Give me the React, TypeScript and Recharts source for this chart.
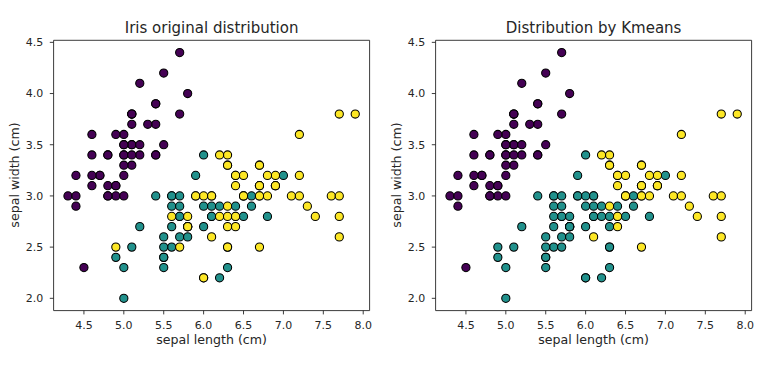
import { ScatterChart, Scatter, XAxis, YAxis, ReferenceArea } from "recharts";

// Iris: sepal length / sepal width, sample order 1..150
const sepalLength = [
  5.1, 4.9, 4.7, 4.6, 5.0, 5.4, 4.6, 5.0, 4.4, 4.9,
  5.4, 4.8, 4.8, 4.3, 5.8, 5.7, 5.4, 5.1, 5.7, 5.1,
  5.4, 5.1, 4.6, 5.1, 4.8, 5.0, 5.0, 5.2, 5.2, 4.7,
  4.8, 5.4, 5.2, 5.5, 4.9, 5.0, 5.5, 4.9, 4.4, 5.1,
  5.0, 4.5, 4.4, 5.0, 5.1, 4.8, 5.1, 4.6, 5.3, 5.0,
  7.0, 6.4, 6.9, 5.5, 6.5, 5.7, 6.3, 4.9, 6.6, 5.2,
  5.0, 5.9, 6.0, 6.1, 5.6, 6.7, 5.6, 5.8, 6.2, 5.6,
  5.9, 6.1, 6.3, 6.1, 6.4, 6.6, 6.8, 6.7, 6.0, 5.7,
  5.5, 5.5, 5.8, 6.0, 5.4, 6.0, 6.7, 6.3, 5.6, 5.5,
  5.5, 6.1, 5.8, 5.0, 5.6, 5.7, 5.7, 6.2, 5.1, 5.7,
  6.3, 5.8, 7.1, 6.3, 6.5, 7.6, 4.9, 7.3, 6.7, 7.2,
  6.5, 6.4, 6.8, 5.7, 5.8, 6.4, 6.5, 7.7, 7.7, 6.0,
  6.9, 5.6, 7.7, 6.3, 6.7, 7.2, 6.2, 6.1, 6.4, 7.2,
  7.4, 7.9, 6.4, 6.3, 6.1, 7.7, 6.3, 6.4, 6.0, 6.9,
  6.7, 6.9, 5.8, 6.8, 6.7, 6.7, 6.3, 6.5, 6.2, 5.9,
];

const sepalWidth = [
  3.5, 3.0, 3.2, 3.1, 3.6, 3.9, 3.4, 3.4, 2.9, 3.1,
  3.7, 3.4, 3.0, 3.0, 4.0, 4.4, 3.9, 3.5, 3.8, 3.8,
  3.4, 3.7, 3.6, 3.3, 3.4, 3.0, 3.4, 3.5, 3.4, 3.2,
  3.1, 3.4, 4.1, 4.2, 3.1, 3.2, 3.5, 3.6, 3.0, 3.4,
  3.5, 2.3, 3.2, 3.5, 3.8, 3.0, 3.8, 3.2, 3.7, 3.3,
  3.2, 3.2, 3.1, 2.3, 2.8, 2.8, 3.3, 2.4, 2.9, 2.7,
  2.0, 3.0, 2.2, 2.9, 2.9, 3.1, 3.0, 2.7, 2.2, 2.5,
  3.2, 2.8, 2.5, 2.8, 2.9, 3.0, 2.8, 3.0, 2.9, 2.6,
  2.4, 2.4, 2.7, 2.7, 3.0, 3.4, 3.1, 2.3, 3.0, 2.5,
  2.6, 3.0, 2.6, 2.3, 2.7, 3.0, 2.9, 2.9, 2.5, 2.8,
  3.3, 2.7, 3.0, 2.9, 3.0, 3.0, 2.5, 2.9, 2.5, 3.6,
  3.2, 2.7, 3.0, 2.5, 2.8, 3.2, 3.0, 3.8, 2.6, 2.2,
  3.2, 2.8, 2.8, 2.7, 3.3, 3.2, 2.8, 3.0, 2.8, 3.0,
  2.8, 3.8, 2.8, 2.8, 2.6, 3.0, 3.4, 3.1, 3.0, 3.1,
  3.1, 3.1, 2.7, 3.2, 3.3, 3.0, 2.5, 3.0, 3.4, 3.0,
];

// 0 setosa, 1 versicolor, 2 virginica
const species = [
  0, 0, 0, 0, 0, 0, 0, 0, 0, 0, 0, 0, 0, 0, 0, 0, 0, 0, 0, 0, 0, 0, 0, 0, 0,
  0, 0, 0, 0, 0, 0, 0, 0, 0, 0, 0, 0, 0, 0, 0, 0, 0, 0, 0, 0, 0, 0, 0, 0, 0,
  1, 1, 1, 1, 1, 1, 1, 1, 1, 1, 1, 1, 1, 1, 1, 1, 1, 1, 1, 1, 1, 1, 1, 1, 1,
  1, 1, 1, 1, 1, 1, 1, 1, 1, 1, 1, 1, 1, 1, 1, 1, 1, 1, 1, 1, 1, 1, 1, 1, 1,
  2, 2, 2, 2, 2, 2, 2, 2, 2, 2, 2, 2, 2, 2, 2, 2, 2, 2, 2, 2, 2, 2, 2, 2, 2,
  2, 2, 2, 2, 2, 2, 2, 2, 2, 2, 2, 2, 2, 2, 2, 2, 2, 2, 2, 2, 2, 2, 2, 2, 2,
];

// cluster ids, matched to the species colours
const kmeansLabels = [
  0, 0, 0, 0, 0, 0, 0, 0, 0, 0, 0, 0, 0, 0, 0, 0, 0, 0, 0, 0, 0, 0, 0, 0, 0,
  0, 0, 0, 0, 0, 0, 0, 0, 0, 0, 0, 0, 0, 0, 0, 0, 0, 0, 0, 0, 0, 0, 0, 0, 0,
  1, 1, 2, 1, 1, 1, 1, 1, 1, 1, 1, 1, 1, 1, 1, 1, 1, 1, 1, 1, 1, 1, 1, 1, 1,
  1, 1, 2, 1, 1, 1, 1, 1, 1, 1, 1, 1, 1, 1, 1, 1, 1, 1, 1, 1, 1, 1, 1, 1, 1,
  2, 1, 2, 2, 2, 2, 1, 2, 2, 2, 2, 2, 2, 1, 1, 2, 2, 2, 2, 1, 2, 1, 2, 1, 2,
  2, 1, 1, 2, 2, 2, 2, 2, 1, 2, 2, 2, 2, 1, 2, 2, 2, 1, 2, 2, 2, 1, 2, 2, 1,
];

const xTicks = [4.5, 5.0, 5.5, 6.0, 6.5, 7.0, 7.5, 8.0];
const yTicks = [2.0, 2.5, 3.0, 3.5, 4.0, 4.5];
const xDomain = [4.12, 8.08];
const yDomain = [1.88, 4.52];

const colors = ["#440154", "#21918c", "#fde725"];
const font = "'DejaVu Sans', sans-serif";
const ink = "#262626";

const pointsFor = (labels: number[], group: number) =>
  sepalLength
    .map((x, i) => ({ x, y: sepalWidth[i], g: labels[i] }))
    .filter(p => p.g === group);

const Dot = (props: any) => (
  <circle cx={props.cx} cy={props.cy} r={4.1} fill={props.fill} stroke="#000" strokeWidth={1.05} />
);

function Panel({ title, labels, left }: { title: string; labels: number[]; left: number }) {
  const plotLeft = 53.6;
  const plotWidth = 316;
  const plotTop = 40.3;
  const plotHeight = 270.3;
  const tickStyle = { fontSize: 11, fill: ink, fontFamily: font };

  return (
    <div style={{ position: "absolute", left, top: 0, width: 390, height: 366 }}>
      <div style={{
        position: "absolute", left: plotLeft, width: plotWidth, top: 18.5, textAlign: "center",
        fontSize: 15, lineHeight: "18px", fontFamily: font, color: ink, whiteSpace: "nowrap",
      }}>
        {title}
      </div>
      <div style={{
        position: "absolute", left: plotLeft, width: plotWidth, top: 332.4, textAlign: "center",
        fontSize: 12.6, lineHeight: "15px", fontFamily: font, color: ink,
      }}>
        sepal length (cm)
      </div>
      <div style={{
        position: "absolute", left: 13.5, top: plotTop + plotHeight / 2,
        transform: "translate(-50%, -50%) rotate(-90deg)", whiteSpace: "nowrap",
        fontSize: 12.6, lineHeight: "15px", fontFamily: font, color: ink,
      }}>
        sepal width (cm)
      </div>

      <ScatterChart
        width={390}
        height={366}
        margin={{ top: plotTop, right: 390 - plotLeft - plotWidth, bottom: 0, left: 8.6 }}
      >
        <XAxis
          type="number"
          dataKey="x"
          domain={xDomain}
          ticks={xTicks}
          interval={0}
          allowDataOverflow
          tickFormatter={(v: number) => v.toFixed(1)}
          height={366 - plotTop - plotHeight}
          tickSize={3.8}
          tickMargin={7}
          axisLine={false}
          tickLine={{ stroke: ink, strokeWidth: 0.9 }}
          tick={tickStyle}
        />
        <YAxis
          type="number"
          dataKey="y"
          domain={yDomain}
          ticks={yTicks}
          interval={0}
          allowDataOverflow
          tickFormatter={(v: number) => v.toFixed(1)}
          width={45}
          tickSize={3.8}
          tickMargin={6.5}
          axisLine={false}
          tickLine={{ stroke: ink, strokeWidth: 0.9 }}
          tick={tickStyle}
        />
        {colors.map((c, g) => (
          <Scatter
            key={g}
            data={pointsFor(labels, g)}
            fill={c}
            shape={Dot}
            isAnimationActive={false}
          />
        ))}
        <ReferenceArea
          x1={xDomain[0]}
          x2={xDomain[1]}
          y1={yDomain[0]}
          y2={yDomain[1]}
          fill="none"
          fillOpacity={0}
          stroke={ink}
          strokeWidth={0.9}
        />
      </ScatterChart>
    </div>
  );
}

export default function App() {
  return (
    <div style={{ position: "absolute", left: 0, top: 0, width: 779, height: 366, background: "white" }}>
      <Panel title="Iris original distribution" labels={species} left={0} />
      <Panel title="Distribution by Kmeans" labels={kmeansLabels} left={382} />
    </div>
  );
}
